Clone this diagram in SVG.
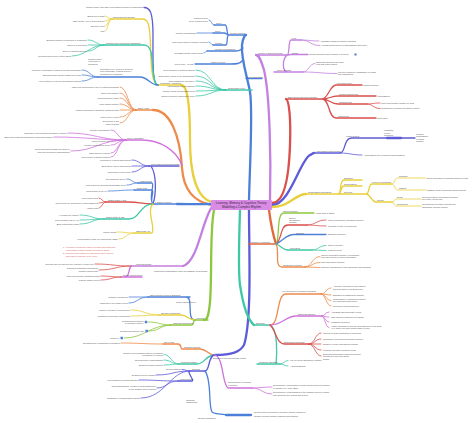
<svg xmlns="http://www.w3.org/2000/svg" width="474" height="423" viewBox="0 0 474 423">
<style>
text{font-family:"Liberation Sans",Arial,sans-serif;font-size:2.1px;fill:#4b4b4b}
.e{text-anchor:end}
.m{font-size:3px;fill:#3a2a40;text-anchor:middle}
.big{font-size:2.3px}
.rn{fill:#d5504b}
path{fill:none;stroke-linecap:round;stroke-linejoin:round}
.w3{stroke-width:2.3}.w2{stroke-width:1.3}.w1{stroke-width:0.8}
.Y{stroke:#e8cf3c}.T{stroke:#3fc8a6}.B{stroke:#4c80d8}.I{stroke:#5d5bd8}.O{stroke:#ee8a4a}.P{stroke:#cf72dc}.R{stroke:#d9504c}.G{stroke:#8dc63f}.L{stroke:#c480e0}.RO{stroke:#e4683e}
.ic{fill:#4a7fd4}
</style>
<rect width="474" height="423" fill="#ffffff"/>
<g id="connectors">
<path class="Y w3" d="M212,202 C196,198 190,172 190,140 C190,108 188,85 181,85"/>
<path class="Y w2" d="M181,85 L158,85"/>
<path class="I w2" d="M158,85 C152,85 153,60 153,35 C153,12 150,7.5 144,7.5"/>
<path class="Y w2" d="M158,85 C150,85 151,50 150,35 C149,22 147,19 142,19 L112,19"/>
<path class="Y w1" d="M112,19 C108,19 108,16 105,16 M112,19 C108,19 108,21 105,21 M112,19 C108,19 108,26 105,26 M112,19 C108,19 108,31 105,31"/>
<path class="T w2" d="M158,85 C152,85 153,60 151,52 C149,46 147,45 144,45 L104,45"/>
<path class="T w1" d="M104,45 C96,45 96,40 88,40 M104,45 L88,45 M104,45 C96,45 96,51 88,51 M104,45 C90,45 86,56 72,56"/>
<path class="B w2" d="M158,85 C150,85 148,77 140,77 L98,77"/>
<path class="B w1" d="M98,77 C90,77 90,70 82,70 M98,77 C90,77 90,75 82,75 M98,77 C90,77 90,81 82,81"/>
<path class="O w3" d="M212,205 C200,203 184,196 182,168 C180,135 170,110 153,110"/>
<path class="O w2" d="M153,110 L136,110"/>
<path class="O w1" d="M136,110 C128,110 128,87 120,87 M136,110 C128,110 128,93 120,93 M136,110 C128,110 128,98 120,98 M136,110 C128,110 128,104 120,104 M136,110 L120,110 M136,110 C128,110 128,117 120,117 M136,110 C128,110 128,123 120,123"/>
<path class="P w2" d="M182,165 C176,150 160,140 142,140 L126,140"/>
<path class="P w1" d="M126,140 C118,140 118,130 111,130 M126,140 C100,140 95,133 68,133 M126,140 C100,140 85,137 54,137 M126,140 C118,140 118,141 111,141 M126,140 C118,140 118,145 111,145 M126,140 C100,140 95,151 71,151 M126,140 C118,140 118,153 111,153 M126,140 C118,140 118,157 111,157"/>
<path class="B w3" d="M211,204 C195,204.5 190,204 177,204"/>
<path class="B w2" d="M177,204 L153,204"/>
<path class="I w2" d="M153,204 C156,195 157,175 151,166 M149,166 L179,166"/>
<path class="I w1" d="M149,166 C140,166 140,160 132,160 M149,166 L132,166 M149,166 C140,166 140,172 132,172"/>
<path class="B w2" d="M153,204 C148,198 155,185 152,183 L138,183 M153,204 C149,200 155,191 152,190 L134,190"/>
<path class="B w1" d="M138,183 C132,183 132,179 127,179 M138,183 C132,183 132,185 127,185 M134,190 C120,190 120,191 108,191"/>
<path class="R w2" d="M153,204 C140,204 140,202 129,202 L106,202"/>
<path class="R w1" d="M106,202 C102,202 102,198 99,198 M106,202 C102,202 102,203 99,203 M106,202 C102,202 102,208 99,208"/>
<path class="T w2" d="M153,204 C140,204 140,219 129,219 L104,219"/>
<path class="T w1" d="M104,219 C92,219 92,215 80,215 M104,219 C92,219 92,220 80,220 M104,219 C92,219 92,224 80,224"/>
<path class="Y w2" d="M153,204 C146,210 156,229 152,233 L134,233"/>
<path class="Y w1" d="M134,233 C125,233 125,232 117,232 M134,233 C126,233 126,239 119,239"/>
<path class="L w3" d="M212,207 C202,220 198,262 183,266"/>
<path class="L w2" d="M183,266 L131,266"/>
<path class="R w1" d="M131,266 C113,266 113,264 95,264 M131,266 C115,266 115,270 99,270"/>
<path class="P w2" d="M131,266 C128,270 130,277 124,277 M121,277 L142,277"/>
<path class="R w1" d="M121,277 C111,277 111,276 101,276 M121,277 C111,277 111,280 101,280"/>
<path class="G w3" d="M214,210 C209,235 213,290 209,310 C208,317 207,320 204,320"/>
<path class="G w2" d="M208,320 L195,320"/>
<path class="B w2" d="M195,320 C186,320 194,297 186,297 M190,297 L148,297"/>
<path class="B w1" d="M148,297 L129,297 M148,297 C138,297 138,303 129,303"/>
<path class="Y w2" d="M195,320 C188,320 188,315 181,315 L159,315"/>
<path class="Y w1" d="M159,315 C145,315 145,310 131,310 M159,315 C145,315 145,316 131,316"/>
<path class="G w2" d="M195,320 C193,320 194,325 192,325 L171,325"/>
<path class="G w1" d="M171,325 C160,325 160,322 148,322 M171,325 C160,325 160,331 149,331 M171,325 C150,325 145,338 124,338"/>
<path class="I w3" d="M249,210 C249,250 252,320 244,345 C240,352 232,355 215,355"/>
<path class="O w2" d="M215,355 C207,355 207,349 200,349 L182,349 M182,349 C180,349 182,344 178,344 L163,344"/>
<path class="O w1" d="M163,344 C142,344 142,343 121,343"/>
<path class="T w2" d="M215,355 C205,355 205,364 197,364 L179,364"/>
<path class="T w1" d="M179,364 C171,364 171,354.5 164,354.5 M179,364 C171,364 171,360 164,360 M179,364 C171,364 171,365 164,365"/>
<path class="I w2" d="M215,355 C208,355 210,371 205,371 L190,371 M190,371 C186,371 195,381 192,381 L178,381"/>
<path class="I w1" d="M190,371 C186,371 186,369.5 182,369.5 M190,371 C173,371 173,375 156,375 M178,381 C158,381 158,380 139,380 M178,381 C167,381 167,388 157,388 M190,371 C170,371 165,398 141,398"/>
<path class="B w2" d="M205,371 C212,380 208,405 212,412 C216,415 230,415 251,415"/>
<path class="B w3" d="M226,415 L251,415"/>
<path class="P w2" d="M215,355 C224,358 222,385 228,388 L252,388"/>
<path class="P w1" d="M252,388 C262,388 262,387 272,387 M252,388 C262,388 262,394 272,394"/>
<path class="B w3" d="M249,200 C250,160 253,110 250,92 C247,75 241,60 242,45 C243,38 245,35 246,35"/>
<path class="B w2" d="M246,35 L229,35 M229,35 C226,35 228,25 225,25 L214,25 M229,35 C226,35 227,33 224,33 L213,33 M229,35 C226,35 228,45 226,45 L213,45 M243,48 C240,51 238,51 236,51 L207,51 M243,60 C240,64 236,64 231,64 L195,64 M246,78.5 L262,78.5"/>
<path class="B w1" d="M214,25 C211,25 212,20 209,20 M213,33 L197,33 M213,45 C211,45 211,42 209,42 M207,51 C205,51 206,53 204,53"/>
<path class="T w2" d="M252,90 L226,90"/>
<path class="T w1" d="M226,90 C211,90 211,70 196,70 M226,90 C211,90 211,76 196,76 M226,90 C211,90 211,81 196,81 M226,90 C211,90 211,86 196,86 M226,90 C211,90 211,91 196,91 M226,90 C211,90 211,96 196,96"/>
<path class="L w3" d="M270,200 C271,160 270,95 264,70 C261,60 259,55 256,55"/>
<path class="L w2" d="M256,55 L287,55 M287,55 C290,55 288,40 291,40 L301,40 M287,55 C289,55 289,54.5 291,54.5 L308,54.5 M287,55 C282,60 282,72 288,72 M274,72 L303,72"/>
<path class="L w1" d="M301,40 C310,40 310,41 319,41 M301,40 C310,40 310,45.5 320,45.5 M303,72 C309,72 309,63.5 315,63.5 M303,72 C320,72 320,73.5 337,73.5"/>
<path class="R w3" d="M272,203 C285,203 289,175 290,145 C291,118 289,100 286,99"/>
<path class="R w2" d="M286,99 L322,99 M322,99 C328,99 330,85 336,85 L362,85 M322,99 C330,99 330,96 338,96 L376,96 M322,99 C330,99 330,104 338,104 L367,104 M322,99 C330,99 328,118 336,118 L376,118"/>
<path class="R w1" d="M367,104 C373,104 373,103 380,103 M367,104 C373,104 373,108.5 380,108.5"/>
<path class="I w3" d="M272,205 C290,205 300,160 310,155 C312,154 313,153 314,153"/>
<path class="I w2" d="M314,153 L340,153 M340,153 C346,153 343,138 352,138 L415,138"/>
<path class="I w3" d="M387,138 L401,138"/>
<path class="I w1" d="M340,153 C350,153 352,155 362,155"/>
<path class="Y w3" d="M272,207 C290,207 295,194 306,194"/>
<path class="Y w2" d="M306,194 L366,194 M338,194 C342,194 339,180 344,180 L362,180 M338,194 C342,194 340,186 344,186 L362,186 M366,194 C370,194 368,184 372,184 L392,184 M366,194 C370,194 372,202 376,202 L392,202"/>
<path class="Y w1" d="M392,184 C395,184 394,178 398,178 L426,178 M392,184 C395,184 394,190 398,190 L426,190 M392,202 C395,202 393,199 397,199 L421,199 M392,202 C395,202 393,206 397,206 L421,206"/>
<path class="RO w3" d="M269,210 C271,225 274,238 276,244"/>
<path class="RO w2" d="M249,244 L276,244"/>
<path class="G w2" d="M276,244 C280,240 276,213 284,213 L314,213"/>
<path class="R w2" d="M276,244 C282,240 280,225 288,225 L307,225"/>
<path class="R w1" d="M307,225 C316,225 316,220 326,220 M307,225 C316,225 316,226 326,226"/>
<path class="B w2" d="M276,244 C284,240 286,234.5 294,234.5 L326,234.5"/>
<path class="T w2" d="M276,244 C282,246 282,250 288,250 L312,250"/>
<path class="T w1" d="M312,250 C319,250 319,245.5 326,245.5 M312,250 L326,250.5"/>
<path class="O w2" d="M276,244 C280,250 274,267 282,267 L305,267"/>
<path class="O w1" d="M305,267 C312,267 312,256.5 320,256.5 M305,267 C312,267 312,262.5 320,262.5 M305,267 L320,267.5"/>
<path class="T w3" d="M240,210 C239,240 238,270 240,285 C243,305 248,320 254,325"/>
<path class="T w2" d="M254,325 L270,325 M270,325 C278,328 277,355 276,364 M257,364 L280,364"/>
<path class="T w1" d="M280,364 C284,364 284,360.5 288,360.5 M280,364 C284,364 284,366 288,366"/>
<path class="O w2" d="M270,325 C280,325 276,294 286,294 L321,294"/>
<path class="O w1" d="M321,294 C326,294 326,288 331,288 M321,294 C326,294 326,295 331,295 M321,294 C326,294 326,300.5 331,300.5 M321,294 C326,294 326,306 331,306"/>
<path class="P w2" d="M270,325 C282,325 286,316 296,316 L322,316"/>
<path class="P w1" d="M322,316 C325,316 325,312 329,312 M322,316 C325,316 325,317 329,317 M322,316 C325,316 325,322 329,322 M322,316 C325,316 325,327.5 329,327.5"/>
<path class="R w2" d="M270,325 C276,330 276,344 285,344 L309,344"/>
<path class="R w1" d="M309,344 C315,344 315,333 321,333 M309,344 C315,344 315,339 321,339 M309,344 L321,344 M309,344 C315,344 315,350 321,350 M309,344 C315,344 315,356 321,356"/>
</g>
<g id="root"><rect x="211" y="200" width="61" height="10" rx="1" fill="#d98be6"/><text class="m" x="241.5" y="204.3">Learning, Memory &amp; Cognitive Theory:</text><text class="m" x="241.5" y="208.3">Modelling a Complex Rhythm</text></g>
<g id="n-ka"><text x="160" y="84.2">Knowledge Acquisition</text></g>
<g id="n-ka1"><text class="e" x="143" y="8.2">Memory span: from short-term working memory to association</text></g>
<g id="n-env"><text x="113" y="18.2">Environmental thoughts</text></g>
<g id="n-env1"><text class="e" x="104.5" y="16.7">Blood flow to brain</text></g>
<g id="n-env2"><text class="e" x="104.5" y="21.7">Daily routine, rest &amp; sleep hygiene</text></g>
<g id="n-env3"><text class="e" x="104.5" y="26.7">Exercise &amp; diet</text></g>
<g id="n-env4"><text class="e" x="104.5" y="31.7">Play</text></g>
<g id="n-stim"><text x="106" y="44.2">Stimulus-rich environment (Engaging)</text><text x="88" y="59.5">Sensory-motor</text><text x="88" y="62">experience &amp;</text><text x="88" y="64.5">integration</text></g>
<g id="n-stim1"><text class="e" x="87" y="40.7">Enriched sensory environment &amp; stimulation</text></g>
<g id="n-stim2"><text class="e" x="87" y="45.7">Variety in experiences</text></g>
<g id="n-stim3"><text class="e" x="87" y="51.7">Novel &amp; enriched activities</text></g>
<g id="n-stim4"><text class="e" x="71" y="56.7">Interaction with peers &amp; other adults</text></g>
<g id="n-mot"><text x="100" y="69.7">Motivation level, interest &amp; attention</text><text x="100" y="72.2">Prior knowledge, learning styles &amp;</text><text x="100" y="74.7">metacognitive strategies</text></g>
<g id="n-mot1"><text class="e" x="81" y="70.7">Influence of motivation, reward &amp; previous knowledge</text></g>
<g id="n-mot2"><text class="e" x="81" y="75.7">Emotional state affects readiness to learn</text></g>
<g id="n-mot3"><text class="e" x="81" y="81.7">Active practice &amp; retrieval strengthens learning</text></g>
<g id="n-brain"><text x="138" y="109.2">Brain Areas</text></g>
<g id="n-br1"><text class="e" x="119" y="87.7">Make new connections &amp; link to existing knowledge</text></g>
<g id="n-br2"><text class="e" x="119" y="93.7">Short-term memory</text></g>
<g id="n-br3"><text class="e" x="119" y="98.7">Working memory space</text></g>
<g id="n-br4"><text class="e" x="119" y="104.7">Visuo-spatial memory</text></g>
<g id="n-br5"><text class="e" x="119" y="110.7">Auditory processing &amp; language comprehension</text></g>
<g id="n-br6"><text class="e" x="119" y="117.7">Motor cortex &amp; skills</text></g>
<g id="n-br7"><text class="e" x="119" y="122">Cerebellum &amp; fine</text><text class="e" x="119" y="124.5">motor learning</text></g>
<g id="n-sa"><text x="127" y="139.2">Sleep Association</text></g>
<g id="n-sa1"><text class="e" x="110" y="130.7">Memory consolidation</text></g>
<g id="n-sa2"><text class="e" x="67" y="133.7">Slow-wave sleep supports declarative memory</text></g>
<g id="n-sa3"><text class="e" x="53" y="137.7">REM sleep supports procedural &amp; emotional memory</text></g>
<g id="n-sa4"><text class="e" x="110" y="141.7">Sleep spindles (N2)</text></g>
<g id="n-sa5"><text class="e" x="110" y="145.7">Memory replay during sleep</text></g>
<g id="n-sa6"><text class="e" x="70" y="150.2">Sleep deprivation impairs the ability to</text><text class="e" x="70" y="152.7">form new memories (hippocampus)</text></g>
<g id="n-sa7"><text class="e" x="110" y="153.9">Naps improve learning</text></g>
<g id="n-sa8"><text class="e" x="110" y="157.7">Sleep before learning prepares</text></g>
<g id="n-7s"><text x="155" y="203.2">7 Stages of Sleep</text></g>
<g id="n-sw"><text x="151" y="165.2">Sleep/wakefulness/hypnogram</text></g>
<g id="n-sw1"><text class="e" x="131" y="160.7">Alpha waves, relaxed wakefulness</text></g>
<g id="n-sw2"><text class="e" x="131" y="166.7">Beta waves, active wakefulness</text></g>
<g id="n-sw3"><text class="e" x="131" y="172.7">Theta waves, sleep onset</text></g>
<g id="n-wk"><text x="140" y="182.2">Wakefulness</text></g>
<g id="n-wk1"><text class="e" x="126" y="179.7">Low-amplitude activity</text></g>
<g id="n-wk2"><text class="e" x="126" y="185.7">High-frequency, desynchronised EEG (beta)</text></g>
<g id="n-aw"><text x="136" y="189.2">Awake state</text></g>
<g id="n-aw1"><text class="e" x="107" y="191.7">Alpha rhythm (8-13 Hz)</text></g>
<g id="n-n1"><text x="108" y="201.2">NREM Stage 1 (N1)</text></g>
<g id="n-n1a"><text class="e" x="98" y="198.7">Low-voltage theta</text></g>
<g id="n-n1b"><text class="e" x="98" y="203.7">Slow rolling eye movements, easily awakened</text></g>
<g id="n-n1c"><text class="e" x="98" y="208.7">Hypnic jerks</text></g>
<g id="n-n2"><text x="106" y="218.2">NREM Stage 2 (N2)</text></g>
<g id="n-n2a"><text class="e" x="79" y="215.7">K-complexes (spikes)</text></g>
<g id="n-n2b"><text class="e" x="79" y="220.7">Sleep spindles (12-14 Hz)</text></g>
<g id="n-n2c"><text class="e" x="79" y="224.7">Body temperature drops</text></g>
<g id="n-rem"><text x="136" y="232.2">REM Stage (R)</text></g>
<g id="n-rem1"><text class="e" x="116" y="232.7">Muscle atonia</text></g>
<g id="n-rem2"><text class="e" x="118" y="239.7">Vivid dreams &amp; rapid eye movements (REM)</text></g>
<g id="n-note"><text class="rn" x="63" y="248.3">1. Activation of synapses leads to synaptic strengthening</text><text class="rn" x="66" y="250.8">(potentiation) which persists for hours to weeks</text><text class="rn" x="63" y="254.3">2. Repeated firing makes the connection more efficient</text><text class="rn" x="66" y="256.8">and easier to activate in the future</text></g>
<g id="n-ltp"><text class="big" x="154" y="271.8">Long-term Potentiation (LTP) &amp; Plasticity of Neurons</text></g>
<g id="n-ih"><text x="136" y="265.2">Initial hypothesis</text></g>
<g id="n-ih1"><text class="e" x="94" y="264.7">Neurons that fire together wire together (Hebb's rule)</text></g>
<g id="n-ih2"><text class="e" x="98" y="269.3">Repeated stimulation strengthens</text><text class="e" x="98" y="271.8">synaptic connections</text></g>
<g id="n-nr"><text x="123" y="276.2">Neural reinforcement</text></g>
<g id="n-nr1"><text class="e" x="100" y="276.7">Long-term memory formation begins</text></g>
<g id="n-nr2"><text class="e" x="100" y="280.7">Practice makes perfect</text></g>
<g id="n-learn"><text x="196" y="319.2">Learning</text></g>
<g id="n-ol"><text x="150" y="296.2">Observational learning (Bandura)</text><text x="176" y="303.2">Social learning theory</text></g>
<g id="n-ol1"><text class="e" x="128" y="297.7">Imitation of behaviour</text></g>
<g id="n-ol2"><text class="e" x="128" y="303.7">Modelling &amp; role-model effects</text></g>
<g id="n-oc"><text x="161" y="314.2">Operant conditioning</text></g>
<g id="n-oc1"><text class="e" x="130" y="310.7">Positive &amp; negative reinforcement</text></g>
<g id="n-oc2"><text class="e" x="130" y="316.7">Punishment decreases a behaviour</text></g>
<g id="n-cc"><text x="173" y="324.2">Classical conditioning</text></g>
<g id="n-cc1"><text class="e" x="143.5" y="321.8">Unconditioned stimulus</text><text class="e" x="143.5" y="324.3">&amp; response (Pavlov)</text><rect class="ic" x="144.8" y="320.8" width="2.4" height="2.4" rx="0.3"/></g>
<g id="n-cc2"><text class="e" x="144" y="331.7">Conditioned stimulus (CS)</text><rect class="ic" x="145.5" y="329.8" width="2.4" height="2.4" rx="0.3"/></g>
<g id="n-cc3"><text class="e" x="119" y="338.7">Recovery</text><rect class="ic" x="120.5" y="336.8" width="2.4" height="2.4" rx="0.3"/></g>
<g id="n-enc"><text x="213" y="358.6">Encoding of specific memory details</text></g>
<g id="n-sp"><text x="184" y="348.2">Synaptic plasticity</text></g>
<g id="n-ltd"><text x="164" y="343.2">LTP &amp; LTD</text></g>
<g id="n-ltd1"><text class="e" x="120" y="343.7">Strengthening &amp; weakening of synapses</text></g>
<g id="n-st"><text x="181" y="363.2">Structural change</text></g>
<g id="n-st1"><text class="e" x="163" y="353.8">Growth of new dendritic spines &amp; synapses</text><text class="e" x="163" y="356.3">in response to learning</text></g>
<g id="n-st2"><text class="e" x="163" y="360.7">Neurogenesis in hippocampus</text></g>
<g id="n-st3"><text class="e" x="163" y="365.7">Synaptic pruning (unused)</text></g>
<g id="n-neu"><text x="192" y="370.2">Neurons</text><text x="186" y="400.5">Chemical</text><text x="186" y="403">messengers</text></g>
<g id="n-neu1"><text class="e" x="181" y="370.2">Neural networks</text></g>
<g id="n-neu2"><text class="e" x="155" y="375.7">Dendrites receive signals</text></g>
<g id="n-ap"><text x="179" y="380.2">Action potential</text></g>
<g id="n-ap1"><text class="e" x="138" y="380.7">Axon transmits electrical impulses</text></g>
<g id="n-ap2"><text class="e" x="156" y="387.3">Neurotransmission: release of neurotransmitters</text><text class="e" x="156" y="389.8">at the synapse onto receptors</text></g>
<g id="n-neu3"><text class="e" x="140" y="398.7">Dopamine &amp; reward-based learning</text></g>
<g id="n-fd"><text x="198" y="419">Neural foundations</text></g>
<g id="n-fd1"><text x="254" y="413.3">Neural circuits (networks of neurons) support learning &amp;</text><text x="254" y="417.3">memory through synaptic changes and plasticity</text></g>
<g id="n-ns"><text x="228" y="383">Neuroscience of learning</text><text x="228" y="385.5">&amp; memory</text></g>
<g id="n-ns1"><text x="273" y="386.3">Neuroscience: identification of brain regions linked to memory</text><text x="273" y="388.8">&amp; learning (e.g. fMRI, EEG)</text></g>
<g id="n-ns2"><text x="273" y="393.3">Neuroscience: understanding of the synapse helps to explain</text><text x="273" y="395.8">how memories are formed and stored</text></g>
<g id="n-mf"><text x="230" y="34.2">Memory function</text></g>
<g id="n-s1"><text x="216" y="24.2">Sleep</text></g>
<g id="n-s1a"><text class="e" x="208" y="19.3">Learning before</text><text class="e" x="208" y="21.8">sleep retained better</text></g>
<g id="n-s2"><text x="215" y="32.2">Sleep</text></g>
<g id="n-s2a"><text class="e" x="196" y="33.7">Memory consolidating</text></g>
<g id="n-s3"><text x="215" y="44.2">Memory</text></g>
<g id="n-s3a"><text class="e" x="208" y="42.7">When sleep helps in memory formation</text></g>
<g id="n-s4"><text x="215" y="50.2">Memory consolidation</text></g>
<g id="n-s4a"><text class="e" x="203" y="53.7">Circadian rhythm (SCN) region</text></g>
<g id="n-s5"><text x="211" y="63.2">Stages of sleep</text></g>
<g id="n-s5a"><text class="e" x="193.5" y="64.7">Sleep cycle ~90 min</text></g>
<g id="n-sd"><text x="247" y="77.6">Sleep deprivation</text></g>
<g id="n-re"><text x="228" y="89.2">Reactivation effect</text></g>
<g id="n-re1"><text class="e" x="195" y="70.7">Sleep spindles &amp; learning capacity</text></g>
<g id="n-re2"><text class="e" x="195" y="76.7">Sharp-wave ripples in the hippocampus</text></g>
<g id="n-re3"><text class="e" x="195" y="81.7">Slow oscillations (neocortex)</text></g>
<g id="n-re4"><text class="e" x="195" y="86.7">Hippocampal-cortical dialogue</text></g>
<g id="n-re5"><text class="e" x="195" y="91.7">Memory replay during NREM sleep</text></g>
<g id="n-re6"><text class="e" x="195" y="96.7">Targeted memory reactivation (cues)</text></g>
<g id="n-mes"><text x="258" y="54.2">Memory &amp; Emotional State</text></g>
<g id="n-fear"><text x="292" y="39.2">Fear</text></g>
<g id="n-fear1"><text x="320" y="41.7">Amygdala enhances memory encoding</text></g>
<g id="n-fear2"><text x="321" y="46.2">Arousal boosts activity in hippocampus and cortex</text></g>
<g id="n-stress"><text x="292" y="53.7">Stress</text></g>
<g id="n-stress1"><text x="309.5" y="55.2">Stress hormones affect storage &amp; retrieval</text><circle cx="355.5" cy="54.5" r="1.2" fill="#6c8bcc"/></g>
<g id="n-anx"><text x="276" y="71.2">Anxiety &amp; PTSD</text></g>
<g id="n-anx1"><text x="316" y="62.6">Emotional memories are more</text><text x="316" y="65.1">vivid and longer lasting</text></g>
<g id="n-anx2"><text x="338" y="72.5">Intrusive memories (flashbacks) in PTSD;</text><text x="338" y="75">fear conditioning</text></g>
<g id="n-ba"><text x="288" y="98.2">Brain areas involved in memory</text></g>
<g id="n-pf"><text x="337" y="84.2">Prefrontal cortex</text></g>
<g id="n-pf1"><text x="363" y="85.7">Working memory</text></g>
<g id="n-mt"><text x="339" y="95.2">Medial temporal lobe</text></g>
<g id="n-mt1"><text x="377" y="96.7">Hippocampus</text></g>
<g id="n-tl"><text x="339" y="103.2">Temporal lobe</text></g>
<g id="n-tl1"><text x="381" y="103.7">Long-term memory storage for facts</text></g>
<g id="n-tl2"><text x="381" y="109.2">Recognition &amp; memory for names &amp; faces</text></g>
<g id="n-cb"><text x="338" y="117.2">Cerebellum</text></g>
<g id="n-cb1"><text x="377" y="118.7">Motor skills</text></g>
<g id="n-hm"><text x="316" y="152.2">Hippocampus and Memory</text></g>
<g id="n-ls"><text x="346" y="137.2">Limbic system</text><text x="384" y="131">Formation</text><text x="384" y="133.5">of new</text><text x="384" y="136">memories</text></g>
<g id="n-ls1"><text x="416" y="134.5">Memory</text><text x="416" y="137">consolidation</text><text x="416" y="139.5">&amp; spatial</text><text x="416" y="142">learning</text></g>
<g id="n-hn"><text x="364" y="156.2">Hippocampal role in memory and navigation</text></g>
<g id="n-ci"><text x="308" y="193.2">Consolidating information</text></g>
<g id="n-ya"><text x="344" y="179.2">Encoding</text></g>
<g id="n-yb"><text x="344" y="185.2">Consolidation</text></g>
<g id="n-yc"><text x="344" y="193.2">Retrieval</text></g>
<g id="n-lp"><text x="372" y="183.2">Levels of processing</text></g>
<g id="n-sem"><text x="399" y="177.2">Semantic</text></g>
<g id="n-sem1"><text x="427" y="178.7">Deep processing of meaning improves recall</text></g>
<g id="n-sha"><text x="399" y="189.2">Shallow</text></g>
<g id="n-sha1"><text x="427" y="190.7">Shallow: focus on physical features/sound</text></g>
<g id="n-test"><text x="377" y="201.2">Testing</text></g>
<g id="n-rc"><text x="397" y="198.2">Recall</text></g>
<g id="n-rc1"><text x="422" y="197.7">Retrieval practice strengthens memory;</text><text x="422" y="200.2">free recall, cued recall</text></g>
<g id="n-rg"><text x="397" y="205.2">Recognition</text></g>
<g id="n-rg1"><text x="422" y="205.2">Recognising previously encountered</text><text x="422" y="207.7">information (multiple choice)</text></g>
<g id="n-som"><text x="251" y="243.2">Storage of Memories</text></g>
<g id="n-im"><text x="283" y="212.2">Implicit memory</text></g>
<g id="n-im1"><text x="316" y="213.7">Motor skills &amp; habits</text></g>
<g id="n-ex"><text x="289" y="218.6">Explicit</text><text x="289" y="221">(declarative)</text><text x="289" y="223.4">memory</text></g>
<g id="n-ex1"><text x="328" y="220.7">Facts &amp; knowledge (semantic memory)</text></g>
<g id="n-ex2"><text x="328" y="226.7">Personal events &amp; experiences</text></g>
<g id="n-ep"><text x="296" y="233.5">Episodic</text></g>
<g id="n-ep1"><text x="328" y="235.2">Episodic memories</text></g>
<g id="n-pr"><text x="290" y="249.2">Procedural</text></g>
<g id="n-pr1"><text x="328" y="246.2">Skills &amp; routines</text></g>
<g id="n-pr2"><text x="328" y="251.2">Priming effects</text></g>
<g id="n-cs"><text x="283" y="266.2">Conditions &amp; Scripts</text></g>
<g id="n-cs1"><text x="321" y="255.6">Context-dependent memory: environment</text><text x="321" y="258.1">cues aid retrieval of stored information</text></g>
<g id="n-cs2"><text x="321" y="263.2">State-dependent memory</text></g>
<g id="n-cs3"><text x="321" y="268.2">Schema: frameworks of prior knowledge aid rekindling</text></g>
<g id="n-emo"><text x="256" y="324.2">Emotions</text></g>
<g id="n-kp"><text x="282" y="292.3">Key processes for memory formation</text></g>
<g id="n-kp1"><text x="333" y="287.3">Attention: emotional events capture</text><text x="333" y="289.8">attention and get encoded better</text></g>
<g id="n-kp2"><text x="333" y="295.7">Encoding is enhanced by arousal</text></g>
<g id="n-kp3"><text x="333" y="299.6">Consolidation: emotional memories</text><text x="333" y="302.1">are stabilised during sleep</text></g>
<g id="n-kp4"><text x="333" y="306.7">Retrieval is mood-congruent</text></g>
<g id="n-et"><text x="298" y="315.2">Emotional Tagging</text></g>
<g id="n-et1"><text x="331" y="312.7">Amygdala tags significant events</text></g>
<g id="n-et2"><text x="331" y="317.7">Tags prioritise memories for storage</text></g>
<g id="n-et3"><text x="331" y="322.7">Flashbulb memories</text></g>
<g id="n-et4"><text x="331" y="326.9">Highly emotional events are remembered in vivid detail</text><text x="331" y="329.4">(e.g. where you were during major events)</text></g>
<g id="n-es"><text x="284" y="343.2">Emotionally significant</text></g>
<g id="n-es1"><text x="323" y="333.7">Survival-relevant information is prioritised</text></g>
<g id="n-es2"><text x="323" y="339.7">Rewarding experiences strengthen memory</text></g>
<g id="n-es3"><text x="323" y="344.7">Negative events remembered strongly</text></g>
<g id="n-es4"><text x="323" y="350.7">Personal relevance increases recall</text></g>
<g id="n-es5"><text x="323" y="355">Emotional significance improves memory</text><text x="323" y="357.4">strength but may also distort</text><text x="323" y="359.8">details</text></g>
<g id="n-mep"><text x="259" y="363.2">Memories (Episodic)</text></g>
<g id="n-mep1"><text x="290" y="361.2">Key for neuro-associative learning</text></g>
<g id="n-mep2"><text x="290" y="366.7">Autobiographical</text></g>
</svg>
